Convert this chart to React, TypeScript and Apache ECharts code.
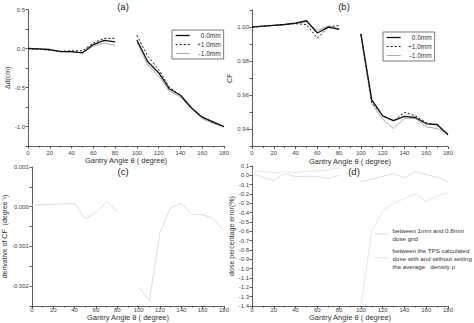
import React, { useEffect, useRef } from "react";
import * as echarts from "echarts";

const angles = [0, 10, 20, 30, 40, 50, 60, 70, 80, 90, 100, 110, 120, 130, 140, 150, 160, 170, 180];

// (a) Δd (cm)
const dd0 = [0, -0.005, -0.013, -0.04, -0.04, -0.055, 0.05, 0.105, 0.085, null, 0.11, -0.17, -0.31, -0.52, -0.6, -0.76, -0.88, -0.94, -1.0];
const ddP1 = [0, -0.01, -0.02, -0.035, -0.03, -0.03, 0.07, 0.13, 0.13, null, 0.17, -0.1, -0.27, -0.5, -0.6, -0.76, -0.88, -0.95, -1.0];
const ddM1 = [0, -0.01, -0.02, -0.04, -0.045, -0.055, 0.03, 0.07, 0.04, null, 0.08, -0.21, -0.35, -0.55, -0.62, -0.77, -0.9, -0.96, -1.01];

// (b) CF
const cf0 = [1.0, 1.0005, 1.001, 1.0015, 1.0023, 1.0037, 0.9965, 1.0, 0.9986, null, 0.996, 0.9573, 0.948, 0.9452, 0.9476, 0.947, 0.9433, 0.9429, 0.9369];
const cfP1 = [1.0, 1.0005, 1.001, 1.0015, 1.002, 1.0015, 0.9935, 1.0, 1.001, null, 0.996, 0.956, 0.948, 0.945, 0.95, 0.948, 0.944, 0.9425, 0.937];
const cfM1 = [1.0, 1.0005, 1.001, 1.0015, 1.0023, 1.003, 0.998, 1.0007, 0.999, null, 0.995, 0.955, 0.946, 0.9405, 0.9465, 0.9465, 0.9415, 0.9405, 0.9375];

// (c) derivative of CF
const dCF = [0.00004, 0.00005, 0.00006, 0.00007, 0.00008, -0.0003, -0.00015, 0.00013, -0.00013, null, -0.00202, -0.00237, -0.00064, -0.00002, 0.00008, -0.0002, -0.0002, -0.0003, -0.0006];

// (d) dose percentage error
const errGrid = [0.02, -0.02, -0.057, 0.02, -0.015, -0.01, -0.01, -0.035, 0.0, null, -0.07, -0.04, -0.01, 0.015, -0.025, 0.04, 0.005, -0.02, -0.07];
const errDensity = [0.05, 0.04, 0.03, 0.04, 0.03, 0.04, 0.05, 0.06, 0.08, null, -1.4, -0.6, -0.38, -0.3, -0.25, -0.2, -0.28, -0.22, -0.19];

const legendNames = ["0.0mm", "+1.0mm", "-1.0mm"];
const dName1 = "between 1mm and 0.8mm\ndose grid";
const dName2 = "between the TPS calculated\ndose with and without setting\nthe average   density ρ";

const FONT = "'Liberation Sans', Arial, sans-serif";
const AX = "#333";

const pairs = (ys: (number | null)[]) => angles.map((a, i) => [a, ys[i]]);

function xAxis(gridIndex: number, top: boolean) {
  return {
    type: "value",
    gridIndex,
    min: 0,
    max: 180,
    interval: 20,
    name: "Gantry Angle θ ( degree)",
    nameLocation: "middle",
    nameGap: top ? 10.5 : 5,
    nameTextStyle: { fontSize: 7.5, color: "#333", fontFamily: FONT },
    axisLine: { onZero: false, lineStyle: { color: AX, width: 0.8 } },
    axisTick: { length: 2.5, lineStyle: { color: AX, width: 0.8 } },
    minorTick: { show: true, splitNumber: 2, length: 1.5, lineStyle: { color: AX, width: 0.8 } },
    splitLine: { show: false },
    axisLabel: { fontSize: 6, color: "#444", margin: top ? 3.5 : 0.5, fontFamily: FONT },
  };
}

function yAxis(gridIndex: number, min: number, max: number, interval: number, name: string, nameGap: number, fmt: (v: number) => string) {
  return {
    type: "value",
    gridIndex,
    min,
    max,
    interval,
    name,
    nameLocation: "middle",
    nameGap,
    nameTextStyle: { fontSize: 7, color: "#333", fontFamily: FONT },
    axisLine: { show: true, onZero: false, lineStyle: { color: AX, width: 0.8 } },
    axisTick: { show: true, length: 2.5, lineStyle: { color: AX, width: 0.8 } },
    splitLine: { show: false },
    axisLabel: { fontSize: 6, color: "#444", margin: 3, fontFamily: FONT, formatter: fmt },
  };
}

const isMult = (v: number, step: number) => Math.abs(v / step - Math.round(v / step)) < 1e-6;

export default function App() {
  const ref = useRef<HTMLDivElement>(null);
  useEffect(() => {
    if (!ref.current) return;
    const chart = echarts.init(ref.current, null, { renderer: "svg" });
    const lineBase = { type: "line", symbol: "none", connectNulls: false, silent: true };
    const mmStyles = [
      { color: "#111", lineStyle: { color: "#111", width: 1.3, type: "solid" } },
      { color: "#111", lineStyle: { color: "#111", width: 1, type: [2, 2] } },
      { color: "#aaa", lineStyle: { color: "#aaa", width: 1, type: "solid" } },
    ];
    const hiddenSymbol = { opacity: 0, color: "transparent", borderWidth: 0 };
    const mmLegend = (left: number, top: number) => ({
      orient: "vertical",
      data: legendNames,
      left,
      top,
      itemWidth: 14,
      itemHeight: 7,
      itemGap: 2,
      padding: [2, 3, 2, 3],
      borderColor: "#555",
      borderWidth: 0.8,
      itemStyle: hiddenSymbol,
      lineStyle: { width: "inherit" },
      formatter: (n: string) => `{r|${n}}`,
      textStyle: {
        fontSize: 6.5,
        color: "#333",
        fontFamily: FONT,
        rich: { r: { width: 26, align: "right", fontSize: 6.5, color: "#333", fontFamily: FONT } },
      },
    });
    const dLegend = (name: string, top: number, pad: number) => ({
      orient: "vertical",
      data: [name],
      left: 375,
      top,
      itemWidth: 12,
      itemHeight: 7,
      itemGap: 3,
      padding: 0,
      itemStyle: hiddenSymbol,
      lineStyle: { width: "inherit" },
      textStyle: { fontSize: 6.2, color: "#333", fontFamily: FONT, lineHeight: 8, padding: [pad, 0, 0, 0] },
    });
    const option: any = {
      animation: false,
      backgroundColor: "#fff",
      textStyle: { fontFamily: FONT },
      grid: [
        { left: 28, top: 9.5, width: 196, height: 136.5 },
        { left: 252, top: 10, width: 196, height: 136.5 },
        { left: 28, top: 167, width: 196, height: 139 },
        { left: 252, top: 166, width: 196, height: 140 },
      ],
      xAxis: [xAxis(0, true), xAxis(1, true), xAxis(2, false), xAxis(3, false)],
      yAxis: [
        yAxis(0, -1.25, 0.5, 0.25, "Δd(cm)", 13.5, (v) => (isMult(v, 0.5) ? v.toFixed(1) : "")),
        yAxis(1, 0.93, 1.01, 0.01, "CF", 16, (v) => (isMult(v, 0.02) ? v.toFixed(2) : "")),
        yAxis(2, -0.0025, 0.001, 0.0005, "derivative of CF  (degree⁻¹)", 19, (v) => (isMult(v, 0.001) ? v.toFixed(3) : "")),
        yAxis(3, -1.4, 0.1, 0.1, "dose percentage error(%)", 14, (v) => v.toFixed(1)),
      ],
      legend: [
        mmLegend(172, 30),
        mmLegend(383, 32),
        dLegend(dName1, 222, 8),
        dLegend(dName2, 238, 16),
      ],
      series: [
        { ...lineBase, ...mmStyles[0], name: legendNames[0], xAxisIndex: 0, yAxisIndex: 0, data: pairs(dd0), z: 3 },
        { ...lineBase, ...mmStyles[1], name: legendNames[1], xAxisIndex: 0, yAxisIndex: 0, data: pairs(ddP1), z: 2 },
        { ...lineBase, ...mmStyles[2], name: legendNames[2], xAxisIndex: 0, yAxisIndex: 0, data: pairs(ddM1), z: 1 },
        { ...lineBase, ...mmStyles[0], name: legendNames[0], xAxisIndex: 1, yAxisIndex: 1, data: pairs(cf0), z: 3 },
        { ...lineBase, ...mmStyles[1], name: legendNames[1], xAxisIndex: 1, yAxisIndex: 1, data: pairs(cfP1), z: 2 },
        { ...lineBase, ...mmStyles[2], name: legendNames[2], xAxisIndex: 1, yAxisIndex: 1, data: pairs(cfM1), z: 1 },
        { ...lineBase, name: "dcf", color: "#ddd", lineStyle: { color: "#ddd", width: 1 }, xAxisIndex: 2, yAxisIndex: 2, data: pairs(dCF) },
        { ...lineBase, name: dName1, color: "#ddd", lineStyle: { color: "#ddd", width: 1 }, xAxisIndex: 3, yAxisIndex: 3, data: pairs(errGrid) },
        { ...lineBase, name: dName2, color: "#e6e6e6", lineStyle: { color: "#e6e6e6", width: 1 }, xAxisIndex: 3, yAxisIndex: 3, data: pairs(errDensity) },
      ],
      graphic: [
        { type: "text", x: 123, y: 6, style: { text: "(a)", fontSize: 9.5, fill: "#222", align: "center", verticalAlign: "middle", fontFamily: FONT } },
        { type: "text", x: 344, y: 6, style: { text: "(b)", fontSize: 9.5, fill: "#222", align: "center", verticalAlign: "middle", fontFamily: FONT } },
        { type: "text", x: 123, y: 171, style: { text: "(c)", fontSize: 9.5, fill: "#222", align: "center", verticalAlign: "middle", fontFamily: FONT } },
        { type: "text", x: 354, y: 171, style: { text: "(d)", fontSize: 9.5, fill: "#222", align: "center", verticalAlign: "middle", fontFamily: FONT } },
      ],
    };
    chart.setOption(option);
    return () => chart.dispose();
  }, []);
  return <div ref={ref} style={{ position: "fixed", left: 0, top: 0, width: 474, height: 323, background: "#fff" }} />;
}
